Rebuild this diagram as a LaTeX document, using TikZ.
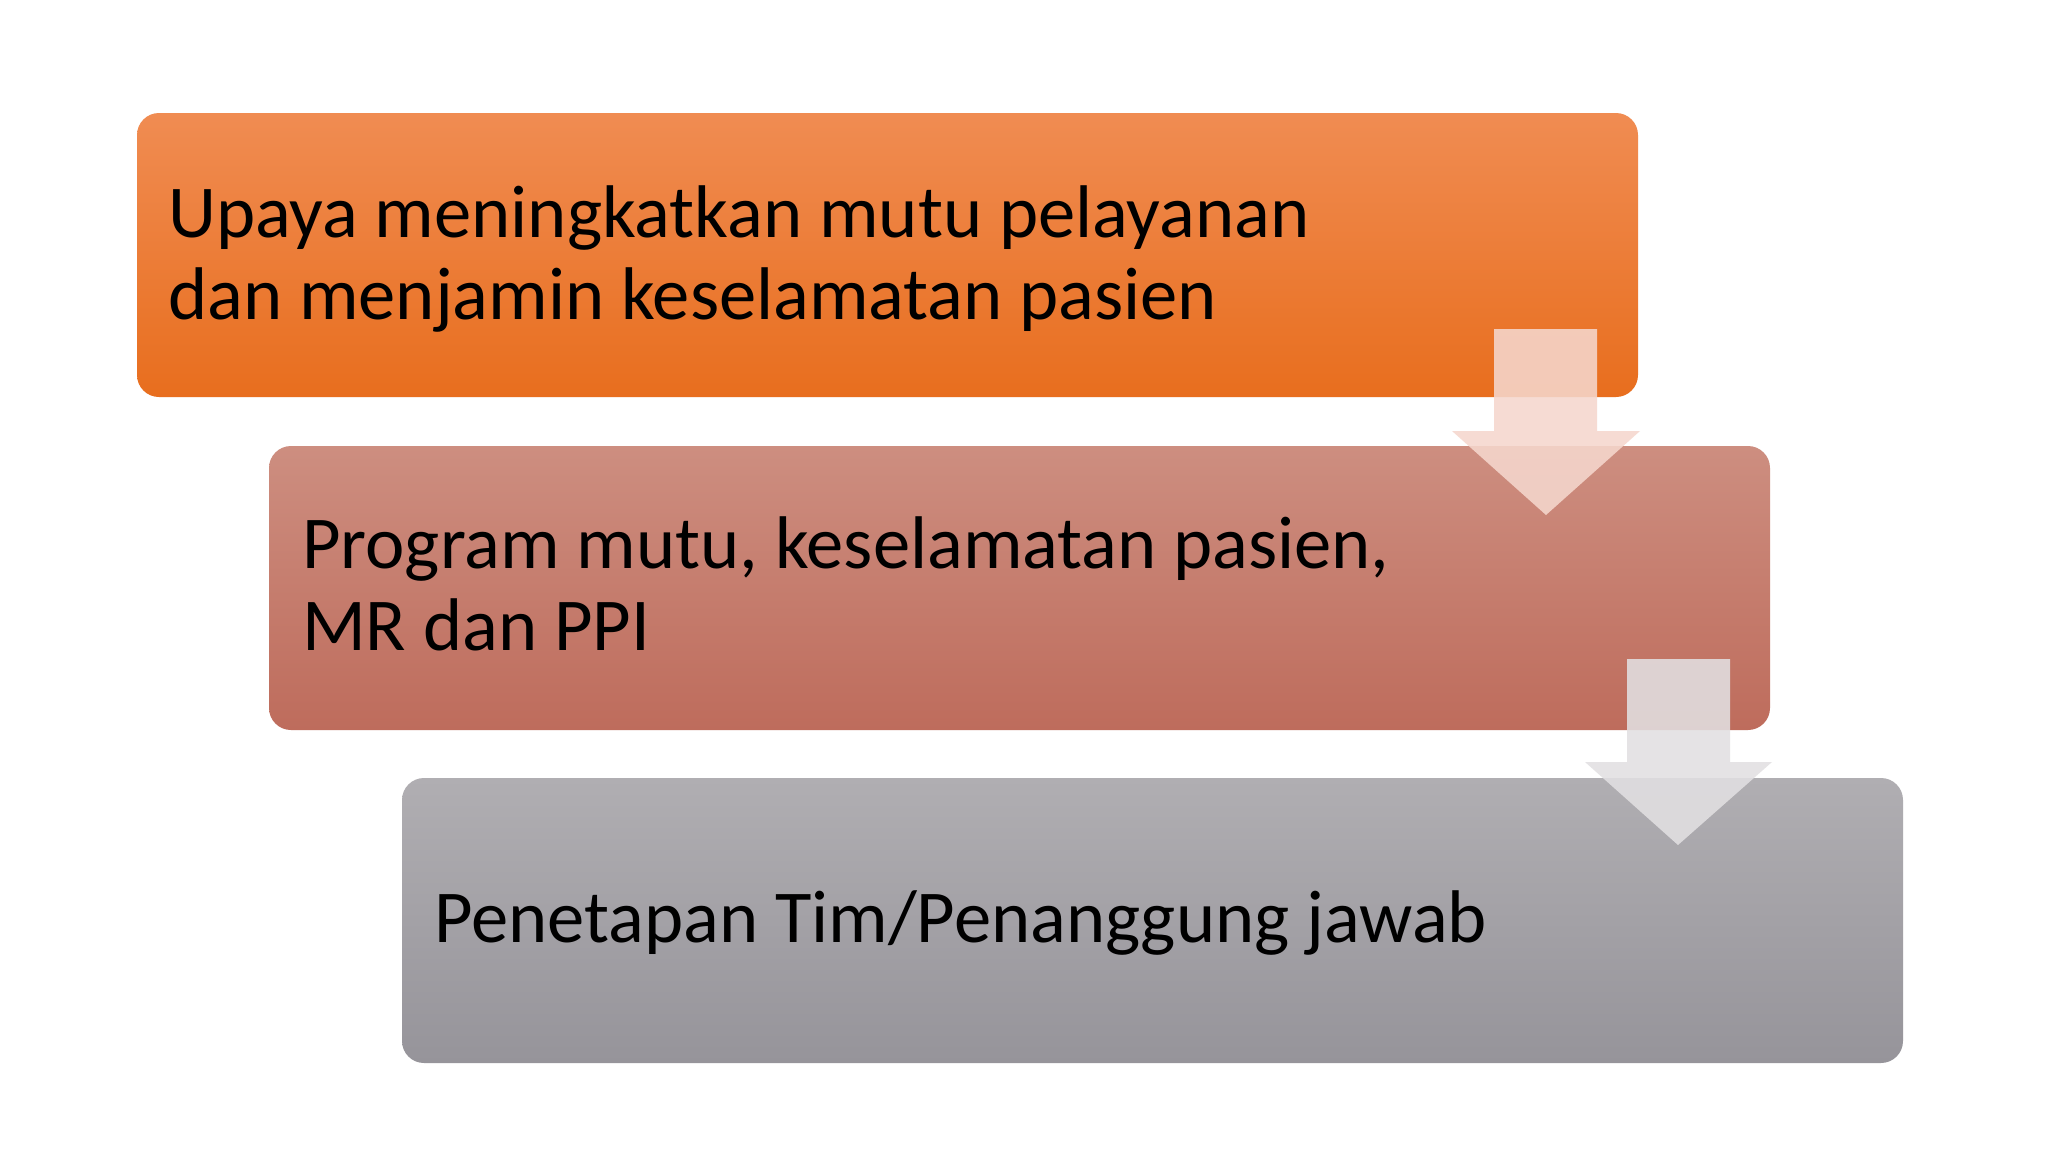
\documentclass[tikz,border=0pt]{standalone}
\usepackage{fontspec}
\setmainfont{Carlito}
\begin{document}
\begin{tikzpicture}[x=1pt,y=-1pt,
  box/.style={rounded corners=22pt, draw=none, inner sep=0pt, anchor=north west},
  boxtext/.style={anchor=base west, align=left, inner sep=0pt, text=black,
    font=\fontsize{74.6}{82}\selectfont},
  blockarrow/.style={draw=none}]
\definecolor{o1}{RGB}{240,140,82}
\definecolor{o2}{RGB}{232,110,30}
\definecolor{r1}{RGB}{205,142,128}
\definecolor{r2}{RGB}{190,108,92}
\definecolor{g1}{RGB}{176,174,178}
\definecolor{g2}{RGB}{150,148,154}
\definecolor{a1}{RGB}{245,215,205}
\definecolor{a2}{RGB}{226,224,226}
\fill[white] (0,0) rectangle (2048,1152);
\useasboundingbox (0,0) rectangle (2048,1152);
% boxes
\draw[box, top color=o1, bottom color=o2] (137,113) rectangle (1638,397);
\node[boxtext] (t1) at (168,319) {Upaya meningkatkan mutu pelayanan\\dan menjamin keselamatan pasien};
\draw[box, top color=r1, bottom color=r2] (269,446) rectangle (1770,730);
\node[boxtext] (t2) at (302,650) {Program mutu, keselamatan pasien,\\MR dan PPI};
\draw[box, top color=g1, bottom color=g2] (402,778) rectangle (1903,1063);
\node[boxtext] (t3) at (434,942) {Penetapan Tim/Penanggung jawab};
% block arrows
\fill[a1, opacity=0.88] (1494,329) -- (1597,329) -- (1597,431) -- (1640,431) -- (1546,515) -- (1452,431) -- (1494,431) -- cycle;
\fill[a2, opacity=0.88] (1627,659) -- (1730,659) -- (1730,762) -- (1772,762) -- (1678,845) -- (1585,762) -- (1627,762) -- cycle;
\end{tikzpicture}
\end{document}
